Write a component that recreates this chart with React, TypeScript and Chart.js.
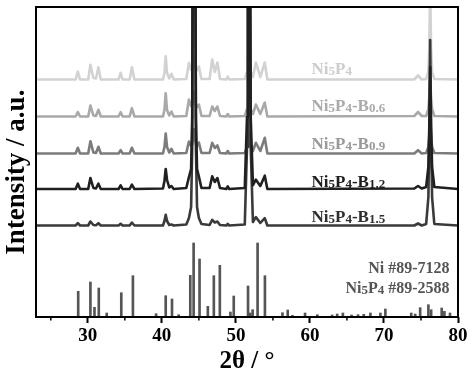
import React, { useEffect, useRef } from "react";
import { Chart, registerables } from "chart.js";

Chart.register(...registerables);

// 2θ positions of the profile vertices (degrees)
const twoTheta = [
  23.0,
  28.35, 28.65, 28.95,
  30.05, 30.35, 30.75, 31.1, 31.43, 31.75,
  34.15, 34.43, 34.7,
  35.65, 35.95, 36.3,
  40.15, 40.35, 40.52, 40.7, 41.0, 41.29, 41.6,
  43.3, 43.66, 43.95, 44.1, 44.22, 44.33, 44.45, 44.6, 44.75, 45.0, 45.35,
  46.45, 46.8, 47.15, 47.5, 47.85,
  48.7, 48.9, 49.1,
  51.2, 51.5, 51.62, 51.73, 51.85, 52.0, 52.3, 52.7, 53.3, 53.9, 54.25,
  74.1, 74.6, 75.1,
  75.7, 76.0, 76.12, 76.24, 76.36, 76.5, 76.8,
  80.0,
];

// Intensities (a.u., stacked with offsets as in the figure)
const ni5p4 = [
  2375,
  2375, 2455, 2375,
  2375, 2522, 2390, 2385, 2498, 2375,
  2375, 2442, 2375,
  2375, 2498, 2375,
  2375, 2440, 2608, 2440, 2385, 2432, 2375,
  2380, 2542, 2470, 2480, 2540, 2600, 2540, 2480, 2470, 2505, 2380,
  2380, 2575, 2450, 2545, 2380,
  2375, 2405, 2375,
  2380, 2450, 2550, 2600, 2550, 2450, 2400, 2545, 2400, 2545, 2375,
  2375, 2415, 2375,
  2380, 2450, 2700, 3300, 2700, 2450, 2380,
  2375,
];
const b06 = [
  2005,
  2005, 2048, 2005,
  2005, 2115, 2015, 2010, 2072, 2005,
  2005, 2048, 2005,
  2005, 2088, 2005,
  2005, 2070, 2238, 2070, 2015, 2055, 2005,
  2010, 2175, 2110, 2120, 2180, 2250, 2180, 2120, 2100, 2125, 2010,
  2010, 2105, 2060, 2105, 2010,
  2005, 2030, 2005,
  2010, 2080, 2160, 2220, 2160, 2080, 2030, 2125, 2030, 2145, 2005,
  2010, 2050, 2010,
  2010, 2080, 2200, 2400, 2200, 2080, 2010,
  2005,
];
const b09 = [
  1635,
  1635, 1692, 1635,
  1635, 1758, 1645, 1640, 1702, 1635,
  1635, 1668, 1635,
  1635, 1692, 1635,
  1635, 1700, 1835, 1700, 1645, 1682, 1635,
  1640, 1755, 1710, 1730, 1800, 1880, 1800, 1730, 1710, 1745, 1640,
  1640, 1742, 1690, 1715, 1640,
  1635, 1660, 1635,
  1640, 1700, 1780, 1850, 1780, 1700, 1660, 1742, 1660, 1792, 1635,
  1635, 1668, 1635,
  1640, 1700, 1800, 2050, 1800, 1700, 1640,
  1635,
];
const b12 = [
  1280,
  1280, 1333, 1280,
  1280, 1390, 1290, 1285, 1333, 1280,
  1280, 1317, 1280,
  1280, 1323, 1280,
  1285, 1360, 1480, 1370, 1295, 1310, 1280,
  1290, 1400, 1480, 2000, 5000, 9000, 5000, 2000, 1480, 1405, 1290,
  1290, 1407, 1350, 1390, 1290,
  1280, 1307, 1280,
  1290, 2000, 5000, 9000, 5000, 2000, 1320, 1373, 1310, 1413, 1280,
  1285, 1310, 1285,
  1300, 1500, 1900, 2500, 1900, 1500, 1300,
  1280,
];
const b15 = [
  915,
  915, 938, 915,
  915, 955, 920, 918, 938, 915,
  915, 932, 915,
  915, 945, 915,
  915, 960, 1022, 960, 920, 925, 915,
  925, 990, 1100, 1700, 5000, 9000, 5000, 1700, 1100, 990, 930,
  920, 972, 945, 955, 920,
  915, 930, 915,
  925, 1700, 5000, 9000, 5000, 1700, 950, 999, 940, 989, 915,
  915, 935, 915,
  930, 1200, 1800, 2770, 1800, 1200, 930,
  915,
];

// Reference stick patterns (Ni #89-7128 / Ni5P4 #89-2588)
const stickPos = [
  28.7, 30.35, 30.9, 31.48, 32.55, 34.52, 36.09, 39.22, 40.52, 41.37, 42.27,
  43.84, 44.29, 45.09, 46.21, 47.02, 47.83, 49.26, 49.71, 51.64, 51.95, 52.26,
  52.93, 53.92, 56.29, 57.0, 57.64, 59.34, 61.0, 63.0, 63.68, 64.45, 65.62,
  66.5, 67.27, 68.17, 69.52, 70.19, 73.68, 74.22, 74.89, 76.0, 76.37, 77.8,
  78.16, 78.92,
];
const stickInt = [
  257, 350, 97, 290, 40, 243, 413, 33, 213, 180, 23,
  417, 740, 580, 107, 413, 517, 50, 210, 310, 40, 73,
  740, 413, 43, 70, 17, 40, 23, 20, 30, 40, 20,
  23, 27, 40, 40, 80, 40, 30, 93, 123, 73, 90,
  57, 40,
];

const xMajorTicks = [30, 40, 50, 60, 70, 80];
const xMinorTicks = [25, 35, 45, 55, 65, 75];

const SERIF = '"Liberation Serif", "Times New Roman", Times, serif';

type Seg = [string, boolean];
const sampleLabels: { segs: Seg[]; color: string }[] = [
  { segs: [["Ni", false], ["5", true], ["P", false], ["4", true]], color: "#cdcdcd" },
  { segs: [["Ni", false], ["5", true], ["P", false], ["4", true], ["-B", false], ["0.6", true]], color: "#ababab" },
  { segs: [["Ni", false], ["5", true], ["P", false], ["4", true], ["-B", false], ["0.9", true]], color: "#9a9a9a" },
  { segs: [["Ni", false], ["5", true], ["P", false], ["4", true], ["-B", false], ["1.2", true]], color: "#1e1e1e" },
  { segs: [["Ni", false], ["5", true], ["P", false], ["4", true], ["-B", false], ["1.5", true]], color: "#2e2e2e" },
];
const refLabels: { segs: Seg[] }[] = [
  { segs: [["Ni #89-7128", false]] },
  { segs: [["Ni", false], ["5", true], ["P", false], ["4", true], [" #89-2588", false]] },
];

function drawRich(ctx: CanvasRenderingContext2D, segs: Seg[], x: number, y: number, size: number, subSize: number, color: string, alignRight: boolean) {
  const widths = segs.map(([t, sub]) => {
    ctx.font = `bold ${sub ? subSize : size}px ${SERIF}`;
    return ctx.measureText(t).width;
  });
  const total = widths.reduce((a, b) => a + b, 0);
  let cx = alignRight ? x - total : x;
  ctx.fillStyle = color;
  ctx.textBaseline = "alphabetic";
  ctx.textAlign = "left";
  segs.forEach(([t, sub], i) => {
    ctx.font = `bold ${sub ? subSize : size}px ${SERIF}`;
    ctx.fillText(t, cx, y + (sub ? 1 : 0));
    cx += widths[i];
  });
}

const decorPlugin = {
  id: "decor",
  afterDatasetsDraw(chart: any) {
    const ctx: CanvasRenderingContext2D = chart.ctx;
    const { left, top, right, bottom } = chart.chartArea;
    const xs = chart.scales.x;
    ctx.save();
    // frame
    ctx.strokeStyle = "#000";
    ctx.lineWidth = 2;
    ctx.strokeRect(left, top, right - left, bottom - top);
    // minor ticks
    ctx.lineWidth = 1.5;
    xMinorTicks.forEach((v) => {
      const px = xs.getPixelForValue(v);
      ctx.beginPath();
      ctx.moveTo(px, bottom);
      ctx.lineTo(px, bottom + 3.5);
      ctx.stroke();
    });
    // sample labels
    const sampleLayout = [74, 111, 149, 186.5, 222.3];
    sampleLabels.forEach((l, i) => {
      drawRich(ctx, l.segs, 311.5, sampleLayout[i], 17, 13, l.color, false);
    });
    const refLayout = [272.7, 293.3];
    refLabels.forEach((l, i) => {
      drawRich(ctx, l.segs, 449.5, refLayout[i], 16, 13, "#555555", true);
    });
    ctx.restore();
  },
};

const traceStyles = [
  { data: ni5p4, color: "#d2d2d2", order: 4 },
  { data: b06, color: "#a9a9a9", order: 3 },
  { data: b09, color: "#7c7c7c", order: 2 },
  { data: b12, color: "#202020", order: 0 },
  { data: b15, color: "#3a3a3a", order: 1 },
];

export default function App() {
  const ref = useRef<HTMLCanvasElement | null>(null);
  useEffect(() => {
    if (!ref.current) return;
    const datasets: any[] = traceStyles.map((t) => ({
      type: "line",
      data: twoTheta.map((x, i) => ({ x, y: t.data[i] })),
      borderColor: t.color,
      borderWidth: 2.6,
      pointRadius: 0,
      tension: 0,
      borderJoinStyle: "round",
      fill: false,
      order: t.order,
    }));
    datasets.push({
      type: "bar",
      data: stickPos.map((x, i) => ({ x, y: stickInt[i] })),
      backgroundColor: "#555555",
      borderWidth: 0,
      barThickness: 2,
      order: 5,
    });
    const chart = new Chart(ref.current, {
      type: "line",
      data: { datasets },
      options: {
        animation: false,
        responsive: false,
        devicePixelRatio: 1,
        layout: { padding: { top: 7, right: 16, left: 0, bottom: 0 } },
        plugins: { legend: { display: false }, tooltip: { enabled: false } },
        scales: {
          x: {
            type: "linear",
            min: 23,
            max: 80,
            offset: false,
            afterFit: (s: any) => { s.height = 62; },
            afterBuildTicks: (s: any) => { s.ticks = xMajorTicks.map((v) => ({ value: v })); },
            ticks: {
              includeBounds: false,
              color: "#000",
              padding: 2,
              maxRotation: 0,
              font: { family: SERIF, size: 19, weight: "bold" },
            },
            grid: { display: true, offset: false, drawOnChartArea: false, drawTicks: true, tickLength: 6, tickWidth: 2, tickColor: "#000" },
            border: { display: false },
            title: {
              display: true,
              text: "2θ / °",
              color: "#000",
              padding: { top: 0, bottom: 2 },
              font: { family: SERIF, size: 25, weight: "bold" },
            },
          },
          y: {
            type: "linear",
            min: 0,
            max: 3100,
            afterFit: (s: any) => { s.width = 36; },
            ticks: { display: false },
            grid: { display: false },
            border: { display: false },
            title: {
              display: true,
              text: "Intensity / a.u.   ",
              color: "#000",
              padding: { top: 1, bottom: 0 },
              font: { family: SERIF, size: 27, weight: "bold" },
            },
          },
        },
      },
      plugins: [decorPlugin],
    } as any);
    return () => chart.destroy();
  }, []);
  return (
    <div style={{ position: "fixed", left: 0, top: 0, width: 474, height: 379, background: "#fff" }}>
      <canvas ref={ref} width={474} height={379} />
    </div>
  );
}
